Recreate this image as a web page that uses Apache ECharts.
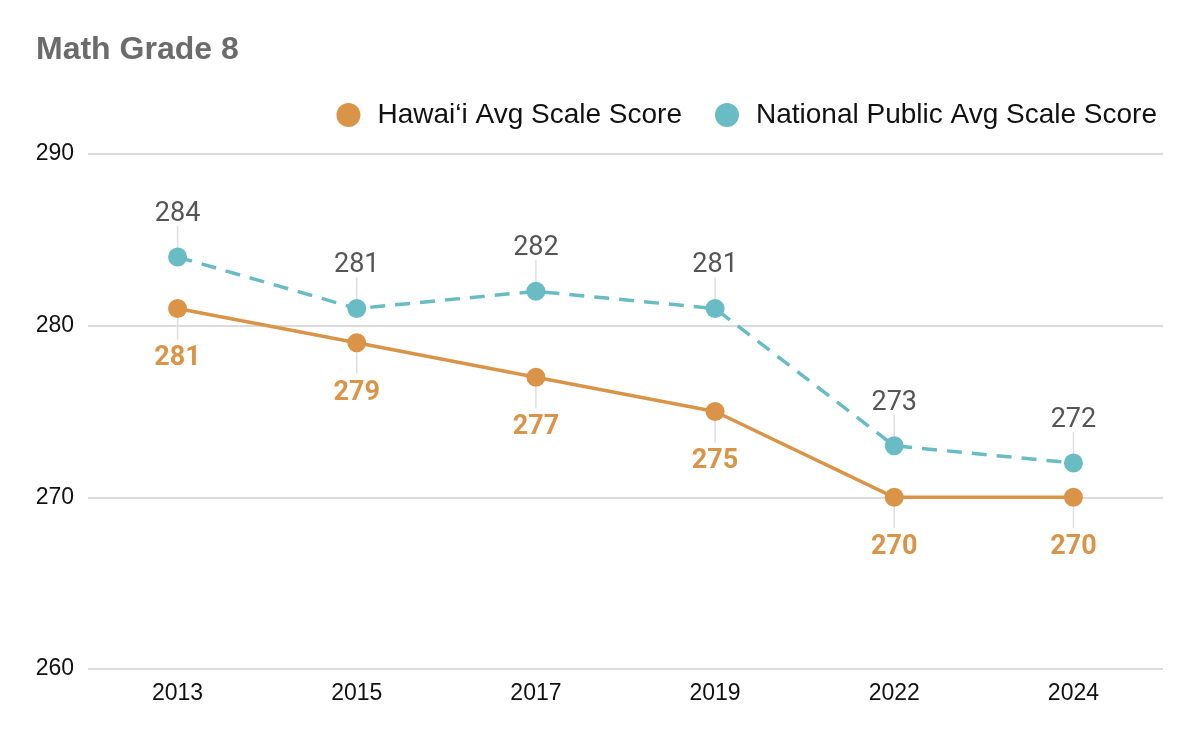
<!DOCTYPE html>
<html>
<head>
<meta charset="utf-8">
<script src="https://cdn.jsdelivr.net/npm/echarts@6/dist/echarts.min.js"></script>
<style>
  html, body { margin: 0; padding: 0; background: #fff; }
  #chart { width: 1200px; height: 742px; }
</style>
</head>
<body>
<div id="chart"></div>
<script>
// data
const years = ['2013', '2015', '2017', '2019', '2022', '2024'];
const hawaiiScores = [281, 279, 277, 275, 270, 270];
const nationalScores = [284, 281, 282, 281, 273, 272];
const yTicks = [260, 270, 280, 290];

const ORANGE = '#DA9448';
const TEAL = '#69BCC4';

const chart = echarts.init(document.getElementById('chart'));

// short grey leader line above / below each point
const leader = (name, values, dir) => ({
    name: name,
    type: 'custom',
    silent: true,
    z: 1,
    data: values.map((v, i) => [i, v]),
    renderItem: (params, api) => {
        const p = api.coord([api.value(0), api.value(1)]);
        return {
            type: 'line',
            shape: { x1: p[0], y1: p[1], x2: p[0], y2: p[1] + dir * 31 },
            style: { stroke: '#dedede', lineWidth: 1.5 }
        };
    }
});

const option = {
    backgroundColor: '#fff',
    animation: false,
    title: {
        text: 'Math Grade 8',
        left: 31,
        top: 29,
        textStyle: {
            fontFamily: 'Liberation Sans',
            fontSize: 32,
            fontWeight: 'bold',
            color: '#6b6b6b'
        }
    },
    legend: {
        right: 38,
        top: 96,
        icon: 'circle',
        itemWidth: 24,
        itemHeight: 24,
        itemGap: 33,
        data: ['Hawai‘i Avg Scale Score', 'National Public Avg Scale Score'],
        textStyle: {
            fontFamily: 'Liberation Sans',
            fontSize: 28,
            color: '#111',
            padding: [0, 0, 0, 12]
        }
    },
    grid: {
        left: 88,
        right: 37,
        top: 154,
        bottom: 73
    },
    xAxis: {
        type: 'category',
        data: years,
        boundaryGap: true,
        axisLine: { show: false },
        axisTick: { show: false },
        axisLabel: {
            margin: 13,
            fontFamily: 'Liberation Sans',
            fontSize: 23,
            color: '#111'
        }
    },
    yAxis: {
        type: 'value',
        min: yTicks[0],
        max: yTicks[yTicks.length - 1],
        interval: 10,
        axisLine: { show: false },
        axisTick: { show: false },
        axisLabel: {
            margin: 14,
            fontFamily: 'Liberation Sans',
            fontSize: 23,
            color: '#111'
        },
        splitLine: { lineStyle: { color: '#cfcfcf', width: 1.5 } }
    },
    series: [
        leader('natLeader', nationalScores, -1),
        leader('hiLeader', hawaiiScores, 1),
        {
            name: 'National Public Avg Scale Score',
            type: 'line',
            z: 3,
            data: nationalScores,
            symbol: 'circle',
            symbolSize: 19,
            itemStyle: { color: TEAL },
            lineStyle: { color: TEAL, width: 3.5, type: [15, 10] },
            label: {
                show: true,
                position: 'top',
                distance: 20,
                fontFamily: 'Roboto',
                fontSize: 27,
                color: '#555'
            }
        },
        {
            name: 'Hawai‘i Avg Scale Score',
            type: 'line',
            z: 4,
            data: hawaiiScores,
            symbol: 'circle',
            symbolSize: 19,
            itemStyle: { color: ORANGE },
            lineStyle: { color: ORANGE, width: 3.5 },
            label: {
                show: true,
                position: 'bottom',
                distance: 27,
                fontFamily: 'Roboto',
                fontSize: 27,
                fontWeight: 'bold',
                color: ORANGE
            }
        }
    ]
};

chart.setOption(option);
window.onresize = () => {
    chart.resize();
};
</script>
</body>
</html>
